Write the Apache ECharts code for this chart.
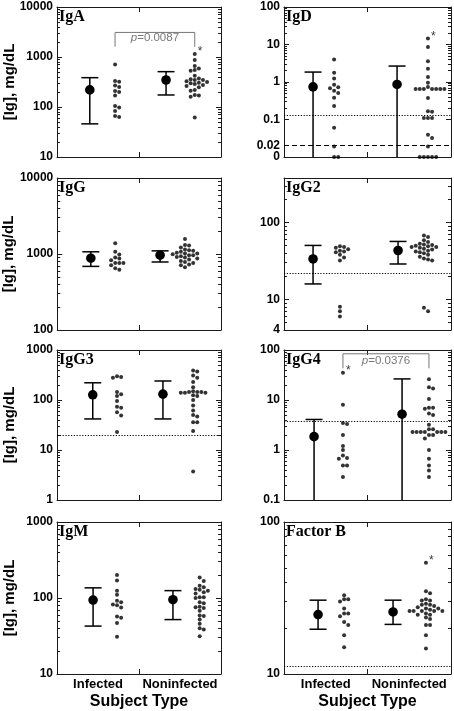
<!DOCTYPE html>
<html><head><meta charset="utf-8">
<script src="https://cdn.jsdelivr.net/npm/echarts@6/dist/echarts.min.js"></script>
<style>html,body{margin:0;padding:0;background:#fff}#c{width:454px;height:711px}</style>
</head><body><div id="c"></div>
<script>
// ---------------- DATA ----------------
const categories = ['Infected', 'Noninfected'];
const panelNames = ['IgA', 'IgD', 'IgG', 'IgG2', 'IgG3', 'IgG4', 'IgM', 'Factor B'];
const yAxisName = '[Ig], mg/dL';
const xAxisName = 'Subject Type';

// stats: [mean, lower, upper] per group; lower 0 = bar runs below the axis floor
const igA_inf = [710, 330, 320, 270, 250, 210, 200, 170, 105, 98, 83, 66, 63];
const igA_non = [1150, 870, 660, 590, 550, 530, 420, 370, 357, 347, 347, 326, 316, 307, 297, 288, 275, 263, 247, 219, 212, 174, 169, 161, 62];
const igA_stats = [[220, 46, 386], [347, 174, 509]];
const igA_range = [10, 10000];
const igA_tickVals = [10, 100, 1000, 10000];
const igA_tickLabels = ['10', '100', '1000', '10000'];

const igD_inf = [4.0, 1.76, 1.24, 0.85, 0.72, 0.68, 0.58, 0.51, 0.38, 0.23, 0.06, 0.019, 0, 0];
const igD_non = [14.4, 8.6, 3.6, 2.25, 1.35, 0.95, 0.74, 0.65, 0.65, 0.65, 0.65, 0.65, 0.65, 0.65, 0.376, 0.165, 0.16, 0.109, 0.109, 0.109, 0.039, 0.032, 0.019, 0, 0, 0, 0, 0];
const igD_stats = [[0.74, 0, 1.84], [0.86, 0, 2.66]];
const igD_range = [0.01, 100];           // axis floor (0.01) is labelled "0"
const igD_tickVals = [0.01, 0.02, 0.1, 1, 10, 100];
const igD_tickLabels = ['0', '0.02', '0.1', '1', '10', '100'];
const igD_dotted = [0.134];
const igD_dashed = [0.0167];

const igG_inf = [1380, 1070, 985, 900, 870, 830, 760, 760, 760, 710, 650, 620];
const igG_non = [1570, 1310, 1290, 1220, 1150, 1120, 1100, 1070, 1040, 1015, 1015, 995, 960, 960, 935, 915, 900, 870, 845, 810, 785, 760, 730, 710, 670];
const igG_stats = [[880, 687, 1069], [964, 785, 1100]];
const igG_range = [100, 10000];
const igG_tickVals = [100, 1000, 10000];
const igG_tickLabels = ['100', '1000', '10000'];

const igG2_inf = [49, 48, 47, 45, 43, 42, 41, 38, 35, 32, 8, 7, 6];
const igG2_non = [68, 65, 59, 56, 53, 52, 51, 50, 49, 48, 48, 47, 45.5, 44.5, 43, 42, 41, 40, 38, 36, 34, 33, 32, 7.8, 7.0];
const igG2_stats = [[33.6, 15.9, 50.4], [43.3, 28.9, 56.8]];
const igG2_range = [4, 380];
const igG2_tickVals = [4, 10, 100];
const igG2_tickLabels = ['4', '10', '100'];
const igG2_dotted = [21.8];

const igG3_inf = [300, 290, 280, 145, 130, 120, 95, 73, 70, 57, 49, 23];
const igG3_non = [390, 370, 310, 280, 230, 180, 150, 145, 145, 145, 140, 140, 140, 125, 120, 100, 78, 62, 50, 47, 36, 36, 24, 3.7];
const igG3_stats = [[127, 41.8, 221], [131, 41.8, 240]];
const igG3_range = [1, 1000];
const igG3_tickVals = [1, 10, 100, 1000];
const igG3_tickLabels = ['1', '10', '100', '1000'];
const igG3_dotted = [19.5];

const igG4_inf = [35, 8.0, 3.45, 3.3, 2.0, 1.2, 1.0, 0.78, 0.69, 0.67, 0.49, 0.49, 0.29];
const igG4_non = [26, 18, 17, 10.5, 7.0, 7.0, 6.7, 5.4, 5.0, 3.2, 2.6, 2.6, 2.3, 2.3, 2.3, 2.3, 2.3, 2.3, 2.3, 2.0, 2.0, 1.7, 1.0, 0.67, 0.49, 0.39, 0.29];
const igG4_stats = [[1.85, 0, 4.08], [5.2, 0, 26.4]];
const igG4_range = [0.1, 100];
const igG4_tickVals = [0.1, 1, 10, 100];
const igG4_tickLabels = ['0.1', '1', '10', '100'];
const igG4_dotted = [3.8];

const igM_inf = [200, 170, 125, 110, 92, 88, 82, 80, 75, 57, 55, 47, 31];
const igM_non = [186, 168, 145, 138, 131, 128, 125, 119, 115, 102, 102, 100, 88, 85, 77, 75.5, 74, 68, 59, 58, 52, 46, 40, 38.6, 31.3];
const igM_stats = [[94, 42.7, 136], [95, 52, 125]];
const igM_range = [10, 1000];
const igM_tickVals = [10, 100, 1000];
const igM_tickLabels = ['10', '100', '1000'];

const fB_inf = [33, 31, 31, 30, 27, 25, 25, 24, 22, 21, 18, 15];
const fB_non = [54, 35, 34, 31, 30.5, 30.5, 29, 28.5, 28.5, 28, 27.5, 27, 27, 26.5, 26, 26, 26, 26, 26, 25, 24.5, 24.5, 23.5, 23, 21, 21, 18, 14.7];
const fB_stats = [[24.6, 19.7, 30.6], [25.6, 21.2, 30.6]];
const fB_range = [10, 100];
const fB_tickVals = [10, 100];
const fB_tickLabels = ['10', '100'];
const fB_dotted = [11.3];

// asterisk-marked points: [panel, group, value]
const starred = [['IgA', 1, 1150], ['IgD', 1, 14.4], ['IgG4', 0, 35], ['Factor B', 1, 54]];

// significance brackets: [top value, leg bottom value, text value]
const igA_bracket = [3100, 1600, 2470];
const igA_pValue = '0.0087';
const igG4_bracket = [84, 43, 62];
const igG4_pValue = '0.0376';

// ---------------- LAYOUT ----------------
const P = [
  {inf: igA_inf, non: igA_non, stats: igA_stats, range: igA_range, tv: igA_tickVals, tl: igA_tickLabels, dotted: [], dashed: [], bracket: igA_bracket, p: igA_pValue, xs: [0.20, 0.354, 0.665, 0.84]},
  {inf: igD_inf, non: igD_non, stats: igD_stats, range: igD_range, tv: igD_tickVals, tl: igD_tickLabels, dotted: igD_dotted, dashed: igD_dashed, minorFrom: 0.1, xs: [0.174, 0.30, 0.677, 0.862]},
  {inf: igG_inf, non: igG_non, stats: igG_stats, range: igG_range, tv: igG_tickVals, tl: igG_tickLabels, dotted: [], dashed: [], xs: [0.205, 0.354, 0.628, 0.78]},
  {inf: igG2_inf, non: igG2_non, stats: igG2_stats, range: igG2_range, tv: igG2_tickVals, tl: igG2_tickLabels, dotted: igG2_dotted, dashed: [], xs: [0.174, 0.335, 0.683, 0.838]},
  {inf: igG3_inf, non: igG3_non, stats: igG3_stats, range: igG3_range, tv: igG3_tickVals, tl: igG3_tickLabels, dotted: igG3_dotted, dashed: [], xs: [0.218, 0.366, 0.646, 0.83]},
  {inf: igG4_inf, non: igG4_non, stats: igG4_stats, range: igG4_range, tv: igG4_tickVals, tl: igG4_tickLabels, dotted: igG4_dotted, dashed: [], bracket: igG4_bracket, p: igG4_pValue, xs: [0.18, 0.353, 0.707, 0.868]},
  {inf: igM_inf, non: igM_non, stats: igM_stats, range: igM_range, tv: igM_tickVals, tl: igM_tickLabels, dotted: [], dashed: [], xs: [0.22, 0.366, 0.707, 0.87]},
  {inf: fB_inf, non: fB_non, stats: fB_stats, range: fB_range, tv: fB_tickVals, tl: fB_tickLabels, dotted: fB_dotted, dashed: [], xs: [0.204, 0.36, 0.653, 0.85]}
];
const cols = [[57, 164], [284, 167]];
const rows = [[7, 150], [178, 152], [350, 150], [522, 152]];
const SANS = 'Liberation Sans';
const FRAME = '#1a1a1a';

function majorTicks(r) {
  const a = [];
  for (let e = Math.ceil(Math.log10(r[0]) - 1e-9); e <= Math.floor(Math.log10(r[1]) + 1e-9); e++) a.push(Math.pow(10, e));
  return a;
}
function minorTicks(r, from) {
  const a = [];
  const lo = Math.floor(Math.log10(r[0]) + 1e-9), hi = Math.ceil(Math.log10(r[1]) - 1e-9);
  for (let e = lo; e < hi; e++) for (let k = 2; k <= 9; k++) {
    const v = k * Math.pow(10, e);
    if (v > r[0] * 1.0001 && v < r[1] * 0.9999 && v >= (from || 0)) a.push(v);
  }
  return a;
}
// simple beeswarm so overlapping dots spread sideways
function swarm(values, cx, r, gw, gh) {
  const lmin = Math.log10(r[0]), ppd = gh / (Math.log10(r[1]) - lmin);
  const d = 4.1, placed = [];
  values.slice().sort((a, b) => b - a).forEach(orig => {
    const v = orig > 0 ? orig : r[0];
    const y = (Math.log10(v) - lmin) * ppd;
    let off = 0;
    for (let s = 0; s < 60; s++) {
      const c = s === 0 ? 0 : (s % 2 ? 1 : -1) * Math.ceil(s / 2) * d;
      if (placed.every(q => (q.x - c) ** 2 + (q.y - y) ** 2 >= d * d * 0.92)) { off = c; break; }
    }
    placed.push({x: off, y, v, orig});
  });
  return placed.map(q => ({x: cx + q.x / gw, v: q.v, orig: q.orig}));
}

const option = {animation: false, backgroundColor: '#fff', title: [], grid: [], xAxis: [], yAxis: [], series: []};

P.forEach((p, i) => {
  const col = cols[i % 2], row = rows[Math.floor(i / 2)];
  const gw = col[1], gh = row[1];
  option.grid.push({left: col[0], top: row[0], width: gw, height: gh});
  option.title.push({text: panelNames[i], left: col[0] + 2, top: row[0] + 2, padding: 0,
    textStyle: {fontFamily: 'Liberation Serif', fontWeight: 'bold', fontSize: 16, color: '#000'}});
  const bottomRow = i >= 6;
  const xb = option.xAxis.length;
  option.xAxis.push({gridIndex: i, type: 'category', data: categories, position: 'bottom', boundaryGap: true,
    axisLine: {show: true, lineStyle: {color: FRAME, width: 1}},
    axisTick: {show: true, inside: true, length: 5, interval: 0, lineStyle: {color: FRAME}},
    axisLabel: {show: bottomRow, interval: 0, hideOverlap: false, color: '#000', fontWeight: 'bold', fontSize: 13, fontFamily: SANS, margin: 4},
    name: bottomRow ? xAxisName : '', nameLocation: 'middle', nameGap: 20,
    nameTextStyle: {color: '#000', fontWeight: 'bold', fontSize: 16, fontFamily: SANS}});
  option.xAxis.push({gridIndex: i, type: 'category', data: categories, position: 'top', boundaryGap: true,
    axisLine: {show: true, lineStyle: {color: FRAME, width: 1}},
    axisTick: {show: true, inside: true, length: 5, interval: 0, lineStyle: {color: FRAME}},
    axisLabel: {show: false}});
  option.xAxis.push({gridIndex: i, type: 'value', min: 0, max: 1, position: 'bottom', show: false});

  const yb = option.yAxis.length;
  const major = majorTicks(p.range), minor = minorTicks(p.range, p.minorFrom);
  const common = {gridIndex: i, type: 'log', logBase: 10, min: p.range[0], max: p.range[1], splitLine: {show: false}};
  const fmt = v => { for (let j = 0; j < p.tv.length; j++) if (Math.abs(v / p.tv[j] - 1) < 1e-6) return p.tl[j]; return ''; };
  // labels split over two overlaid left axes so close labels (0 / 0.02) are both kept
  const tvA = p.tv.filter((v, j) => j % 2 === 0), tvB = p.tv.filter((v, j) => j % 2 === 1);
  const lblStyle = {formatter: fmt, showMinLabel: true, showMaxLabel: true, hideOverlap: false,
      color: '#000', fontWeight: 'bold', fontSize: 12, fontFamily: SANS, margin: 4};
  option.yAxis.push(Object.assign({}, common, {position: 'left',
    axisLine: {show: true, lineStyle: {color: FRAME, width: 1}},
    axisTick: {show: true, inside: true, length: 5, customValues: major, lineStyle: {color: FRAME}},
    axisLabel: Object.assign({show: true, customValues: tvA}, lblStyle),
    name: i % 2 === 0 ? yAxisName : '', nameLocation: 'middle', nameGap: 40, nameRotate: 90,
    nameTextStyle: {color: '#000', fontWeight: 'bold', fontSize: 15, fontFamily: SANS}}));
  option.yAxis.push(Object.assign({}, common, {position: 'left', axisLine: {show: false},
    axisTick: {show: true, inside: true, length: 3, customValues: minor, lineStyle: {color: FRAME}},
    axisLabel: Object.assign({show: tvB.length > 0, customValues: tvB.length ? tvB : [p.range[0]]}, lblStyle)}));
  option.yAxis.push(Object.assign({}, common, {position: 'right',
    axisLine: {show: true, lineStyle: {color: FRAME, width: 1}},
    axisTick: {show: true, inside: true, length: 5, customValues: major, lineStyle: {color: FRAME}}, axisLabel: {show: false}}));
  option.yAxis.push(Object.assign({}, common, {position: 'right', axisLine: {show: false},
    axisTick: {show: true, inside: true, length: 3, customValues: minor, lineStyle: {color: FRAME}}, axisLabel: {show: false}}));

  // dots
  const dots = [];
  [p.inf, p.non].forEach((vals, g) => {
    const st = starred.filter(s => s[0] === panelNames[i] && s[1] === g).map(s => s[2]);
    let starDone = false;
    swarm(vals, p.xs[g * 2 + 1], p.range, gw, gh).forEach(q => {
      const item = {value: [q.x, q.v]};
      if (!starDone && st.indexOf(q.orig) >= 0) {
        starDone = true;
        item.label = {show: true, formatter: '*', position: 'right', distance: 1, offset: [0, -2],
          color: '#000', fontSize: 12, fontFamily: SANS};
      }
      dots.push(item);
    });
  });
  const marks = [];
  p.dotted.forEach(v => marks.push({yAxis: v, lineStyle: {type: [1.2, 1.6], color: '#000', width: 1}}));
  p.dashed.forEach(v => marks.push({yAxis: v, lineStyle: {type: [5, 3], color: '#000', width: 1.2}}));
  option.series.push({type: 'scatter', xAxisIndex: xb + 2, yAxisIndex: yb, data: dots, symbolSize: 4,
    itemStyle: {color: '#000'}, silent: true,
    markLine: marks.length ? {symbol: 'none', silent: true, label: {show: false}, data: marks} : undefined});

  // mean with range bars
  option.series.push({type: 'custom', xAxisIndex: xb + 2, yAxisIndex: yb,
    data: p.stats.map((s, g) => [p.xs[g * 2], s[0], s[1], s[2]]),
    encode: {x: 0, y: 1},
    renderItem: (params, api) => {
      const x = api.value(0), m = api.value(1), lo = api.value(2), hi = api.value(3);
      const cs = params.coordSys;
      const pm = api.coord([x, m]), ph = api.coord([x, hi]);
      const yl = lo > 0 ? api.coord([x, lo])[1] : cs.y + cs.height;
      const cap = 8.5, st = {stroke: '#000', lineWidth: 1.5};
      const ch = [
        {type: 'line', shape: {x1: pm[0], y1: ph[1], x2: pm[0], y2: yl}, style: st},
        {type: 'line', shape: {x1: pm[0] - cap, y1: ph[1], x2: pm[0] + cap, y2: ph[1]}, style: st}
      ];
      if (lo > 0) ch.push({type: 'line', shape: {x1: pm[0] - cap, y1: yl, x2: pm[0] + cap, y2: yl}, style: st});
      ch.push({type: 'circle', shape: {cx: pm[0], cy: pm[1], r: 4.8}, style: {fill: '#000'}});
      return {type: 'group', children: ch};
    }});

  // significance bracket
  if (p.bracket) {
    const x1 = p.xs[1], x2 = p.xs[3], b = p.bracket;
    option.series.push({type: 'line', xAxisIndex: xb + 2, yAxisIndex: yb, symbol: 'none', silent: true,
      lineStyle: {color: '#777', width: 1},
      data: [[x1, b[1]], [x1, b[0]], [x2, b[0]], [x2, b[1]]]});
    option.series.push({type: 'scatter', xAxisIndex: xb + 2, yAxisIndex: yb, symbolSize: 0, silent: true,
      data: [[(x1 + x2) / 2, b[2]]],
      label: {show: true, position: 'inside', formatter: '{i|p}{n|=' + p.p + '}',
        rich: {i: {fontStyle: 'italic', fontSize: 11.5, fontFamily: SANS, color: '#555'},
               n: {fontSize: 11.5, fontFamily: SANS, color: '#555'}}}});
  }
});

const chart = echarts.init(document.getElementById('c'), null, {renderer: 'canvas'});
chart.setOption(option);
</script></body></html>
